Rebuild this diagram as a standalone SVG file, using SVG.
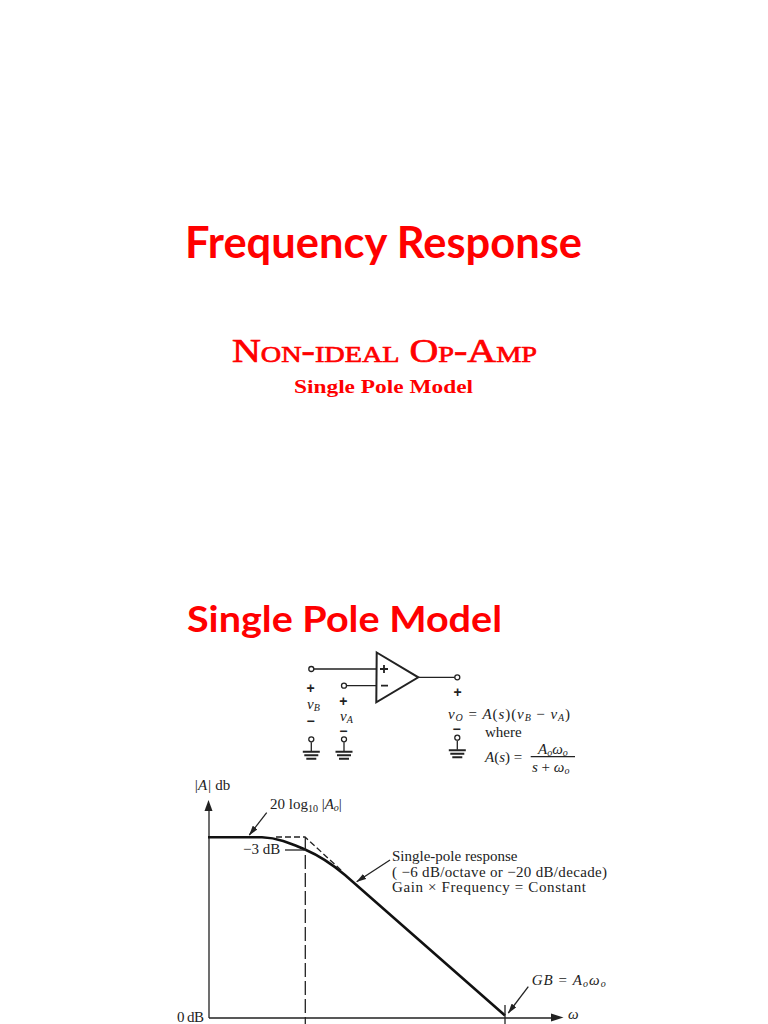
<svg xmlns="http://www.w3.org/2000/svg" width="768" height="1024" viewBox="0 0 768 1024">
<style>
.h{font-family:Lato,"Liberation Sans",sans-serif;font-weight:700;fill:#f00}
.s{font-family:"Liberation Serif","DejaVu Serif",serif;fill:#f00}
.t{font-family:"Liberation Serif","DejaVu Serif",serif;fill:#222;font-size:15px}
.i{font-style:italic}
.sub{font-size:10px}
.l{fill:none;stroke:#222;stroke-width:1.3}
.c{fill:#fff;stroke:#222;stroke-width:1.3}
.g{fill:none;stroke:#222;stroke-width:2}
.pm{font-family:"Liberation Sans",sans-serif;font-size:14px;font-weight:700;fill:#222;text-anchor:middle}
</style>
<defs>
<marker id="ah" viewBox="0 0 10 6" refX="9.5" refY="3" markerWidth="10" markerHeight="6" markerUnits="userSpaceOnUse" orient="auto"><path d="M0 0L10 3L0 6Z" fill="#222"/></marker>
<g id="gnd"><path class="l" d="M0 3V12"/><circle class="c" cx="0" cy="0" r="2.5"/><path class="g" d="M-8.5 12.500H8.500M-7 16H7M-5 19.500H5"/></g>
</defs>
<rect width="768" height="1024" fill="#fff"/>
<g id="titles">
<text class="h" x="185" y="258" font-size="44" textLength="397" lengthAdjust="spacingAndGlyphs">Frequency Response</text>
<text class="s" x="232" y="362" font-size="34" textLength="305" lengthAdjust="spacingAndGlyphs" style="font-variant:small-caps" stroke="#f00" stroke-width=".7">Non-ideal Op-Amp</text>
<text class="s" x="294" y="393" font-size="19" font-weight="700" textLength="179" lengthAdjust="spacingAndGlyphs">Single Pole Model</text>
<text class="h" x="187" y="632" font-size="36" textLength="315" lengthAdjust="spacingAndGlyphs">Single Pole Model</text>
</g>
<g id="connectors">
<path class="l" d="M313.500 669H377M346.500 685.700H377M418.300 677.300H455"/>
<path class="l" d="M209 1018V806M209 1018H553"/>
<path d="M208.500 800L204.500 811H212.500Z" fill="#222"/>
<path d="M563.500 1017.500L551 1013.500V1021.500Z" fill="#222"/>
<path d="M208 837.300H262C280 838 292 844 305 849.500C320 856 332 864 345 875L505 1015.500" fill="none" stroke="#111" stroke-width="2.600"/>
<path class="l" d="M276 837H305L342 871" stroke-dasharray="6 3"/>
<path class="l" d="M305.300 837V1024" stroke-dasharray="14 4" stroke-width="1.500"/>
<path class="l" d="M285 850H304"/>
<path class="l" d="M505 1005V1024"/>
<path class="l" d="M266.700 812.700L249.300 835" marker-end="url(#ah)"/>
<path class="l" d="M390 860L356.700 881.700" marker-end="url(#ah)"/>
<path class="l" d="M528.300 986.700L508.300 1013" marker-end="url(#ah)"/>
</g>
<g id="opamp">
<path d="M376.700 652.500L418.300 677.300L376.300 702.300Z" fill="#fff" stroke="#222" stroke-width="2"/>
<path d="M380 669H388M384 665V673M381 685.700H388" fill="none" stroke="#222" stroke-width="1.800"/>
</g>
<g id="input-b">
<circle class="c" cx="311.300" cy="669" r="2.500"/>
<text class="pm" x="310.700" y="692.500">+</text>
<text class="t i" x="307" y="709" font-size="16">v<tspan class="sub" dy="2">B</tspan></text>
<text class="pm" x="310.700" y="726">−</text>
<use href="#gnd" x="311.300" y="739.300"/>
</g>
<g id="input-a">
<circle class="c" cx="344" cy="685.700" r="2.500"/>
<text class="pm" x="343.300" y="705.500">+</text>
<text class="t i" x="340" y="721" font-size="16">v<tspan class="sub" dy="2">A</tspan></text>
<text class="pm" x="343.300" y="736">−</text>
<use href="#gnd" x="344" y="739.300"/>
</g>
<g id="output">
<circle class="c" cx="457.300" cy="677.300" r="2.500"/>
<text class="pm" x="457.700" y="696.500">+</text>
<text class="pm" x="456.700" y="734">−</text>
<use href="#gnd" x="457.300" y="737.700"/>
</g>
<g id="equations">
<text class="t" x="448" y="719" textLength="122" lengthAdjust="spacing"><tspan class="i">v</tspan><tspan class="i sub" dy="2">O</tspan><tspan dy="-2"> = </tspan><tspan class="i">A</tspan>(<tspan class="i">s</tspan>)(<tspan class="i">v</tspan><tspan class="i sub" dy="2">B</tspan><tspan dy="-2"> − </tspan><tspan class="i">v</tspan><tspan class="i sub" dy="2">A</tspan><tspan dy="-2">)</tspan></text>
<text class="t" x="485" y="736.700">where</text>
<text class="t" x="485" y="761.700"><tspan class="i">A</tspan>(<tspan class="i">s</tspan>) =</text>
<path class="l" d="M530.700 756.700H575"/>
<text class="t" x="538" y="753.500"><tspan class="i">A</tspan><tspan class="i sub" dy="2">o</tspan><tspan class="i" dy="-2">ω</tspan><tspan class="i sub" dy="2">o</tspan></text>
<text class="t" x="532" y="772"><tspan class="i">s</tspan> + <tspan class="i">ω</tspan><tspan class="i sub" dy="2">o</tspan></text>
</g>
<g id="graph-labels">
<text class="t" x="194" y="790"><tspan class="i">|A|</tspan> db</text>
<text class="t" x="270" y="809">20 log<tspan class="sub" dy="3">10</tspan><tspan dy="-3"> |</tspan><tspan class="i">A</tspan><tspan class="i sub" dy="2">o</tspan><tspan dy="-2">|</tspan></text>
<text class="t" x="243" y="854.300">−3 dB</text>
<text class="t" x="392" y="861">Single-pole response</text>
<text class="t" x="392" y="877" textLength="215" lengthAdjust="spacing">( −6 dB/octave or −20 dB/decade)</text>
<text class="t" x="392" y="892" textLength="194" lengthAdjust="spacing">Gain × Frequency = Constant</text>
<text class="t" x="531.700" y="985" textLength="74" lengthAdjust="spacing"><tspan class="i">GB</tspan> = <tspan class="i">A</tspan><tspan class="i sub" dy="2">o</tspan><tspan class="i" dy="-2">ω</tspan><tspan class="i sub" dy="2">o</tspan></text>
<text class="t" x="177" y="1021.700" font-size="14" textLength="27">0 dB</text>
<text class="t i" x="568" y="1019">ω</text>
</g>
</svg>
